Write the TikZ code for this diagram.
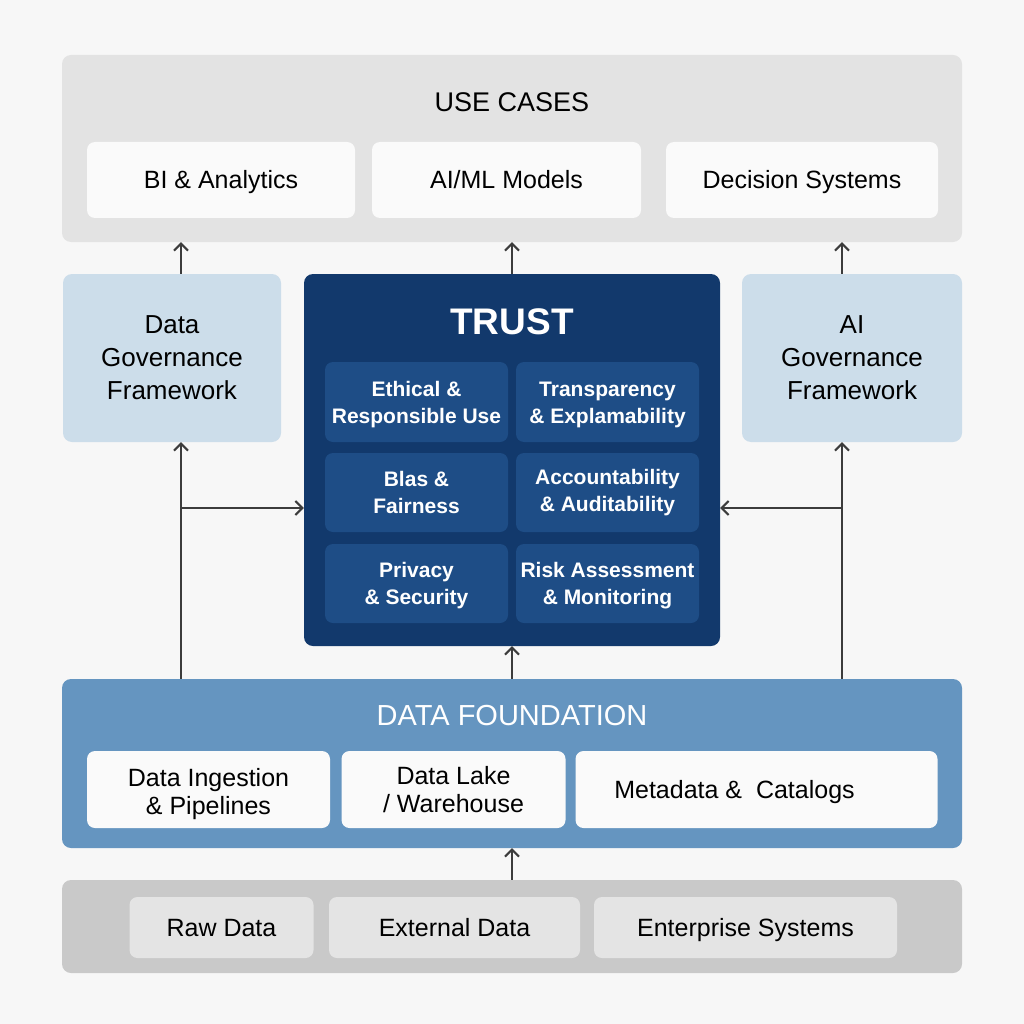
\documentclass[tikz,border=0pt]{standalone}
\usepackage{fontspec}
\setmainfont{Liberation Sans}
\usetikzlibrary{arrows.meta}
\definecolor{pagebg}{HTML}{F7F7F7}
\definecolor{usebg}{HTML}{E3E3E3}
\definecolor{cardbg}{HTML}{FAFAFA}
\definecolor{govbg}{HTML}{CCDDEA}
\definecolor{trustbg}{HTML}{12396C}
\definecolor{trustcard}{HTML}{1E4D86}
\definecolor{foundbg}{HTML}{6595C0}
\definecolor{srcbg}{HTML}{C9C9C9}
\definecolor{srccard}{HTML}{E4E4E4}
\definecolor{arrowgray}{HTML}{3C3C3C}

\begin{document}
\begin{tikzpicture}[
        x = 1pt, y = -1pt,
        box/.style = {rounded corners=9pt, inner sep=0pt, align=center},
        card/.style = {box, rounded corners=8pt, font=\fontsize{25}{30}\selectfont,
            text height=18pt, text depth=0pt},
        dcard/.style = {box, rounded corners=8pt, fill=cardbg, minimum height=77pt,
            font=\fontsize{25}{28}\selectfont},
        tcard/.style = {box, rounded corners=8pt, fill=trustcard, text=white,
            minimum width=183pt, font=\bfseries\fontsize{21}{27}\selectfont},
        arr/.style = {draw=arrowgray, line width=2pt,
            -{Straight Barb[length=7pt,width=14pt,line width=2pt]}},
		]

        \useasboundingbox[fill=pagebg] (0,0) rectangle (1024,1024);

        % Use cases
        \node[box, fill=usebg, minimum width=900pt, minimum height=187pt] (usecases) at (512,148.5) {};
        \node[font=\fontsize{27}{32}\selectfont] (usetitle) at (512,102) {USE CASES};
        \node[card, fill=cardbg, minimum width=268pt, minimum height=76pt] (bi) at (221,180) {BI \& Analytics};
        \node[card, fill=cardbg, minimum width=269pt, minimum height=76pt] (aiml) at (506.5,180) {AI/ML Models};
        \node[card, fill=cardbg, minimum width=272pt, minimum height=76pt] (decision) at (802,180) {Decision Systems};

        % Governance
        \node[box, fill=govbg, minimum width=218pt, minimum height=168pt,
            font=\fontsize{26}{33}\selectfont] (dgov) at (172,358) {Data\\Governance\\Framework};
        \node[box, fill=govbg, minimum width=220pt, minimum height=168pt,
            font=\fontsize{26}{33}\selectfont] (aigov) at (852,358) {AI\\Governance\\Framework};

        % Trust
        \node[box, fill=trustbg, minimum width=416pt, minimum height=372pt] (trust) at (512,460) {};
        \node[text=white, font=\bfseries\fontsize{37}{40}\selectfont] (trusttitle) at (512,322) {TRUST};
        \node[tcard, minimum height=80pt] (ethic) at (416.5,402) {\rule{0pt}{21pt}Ethical \&\\Responsible Use};
        \node[tcard, minimum height=80pt] (transp) at (607.5,402) {\rule{0pt}{21pt}Transparency\\\& Explamability};
        \node[tcard, minimum height=79pt] (bias) at (416.5,492.5) {Blas \&\\Fairness};
        \node[tcard, minimum height=79pt] (account) at (607.5,492.5) {Accountability\\\& Auditability};
        \node[tcard, minimum height=79pt] (privacy) at (416.5,583.5) {\rule{0pt}{19pt}Privacy\\\& Security};
        \node[tcard, minimum height=79pt] (risk) at (607.5,583.5) {\rule{0pt}{19pt}Risk Assessment\\\& Monitoring};

        % Data foundation
        \node[box, fill=foundbg, minimum width=900pt, minimum height=169pt] (found) at (512,763.5) {};
        \node[text=white, font=\fontsize{29}{32}\selectfont] (foundtitle) at (512,716) {DATA FOUNDATION};
        \node[dcard, minimum width=243pt] (ingest) at (208.5,789.5) {\rule{0pt}{28pt}Data Ingestion\\\& Pipelines};
        \node[dcard, minimum width=224pt] (lake) at (453.5,789.5) {Data Lake\\/ Warehouse};
        \node[card, fill=cardbg, minimum width=362pt, minimum height=77pt] (meta) at (756.5,789.5) {Metadata \&~~Catalogs\hspace*{44pt}};

        % Sources
        \node[box, fill=srcbg, minimum width=900pt, minimum height=93pt] (sources) at (512,926.5) {};
        \node[card, fill=srccard, minimum width=184pt, minimum height=61pt] (raw) at (221.5,927.5) {Raw Data};
        \node[card, fill=srccard, minimum width=251pt, minimum height=61pt] (external) at (454.5,927.5) {External Data};
        \node[card, fill=srccard, minimum width=303pt, minimum height=61pt] (enterprise) at (745.5,927.5) {Enterprise Systems};

        % Arrows
        \coordinate (lft) at (181,508);
        \coordinate (rgt) at (842,508);
        \draw[arr] (dgov.north -| lft) -- (usecases.south -| lft);
        \draw[arr] (trust.north) -- (usecases.south);
        \draw[arr] (aigov.north -| rgt) -- (usecases.south -| rgt);
        \draw[arr] (found.north -| lft) -- (dgov.south -| lft);
        \draw[arr] (found.north -| rgt) -- (aigov.south -| rgt);
        \draw[arr] (lft) -- (lft -| trust.west);
        \draw[arr] (rgt) -- (rgt -| trust.east);
        \draw[arr] (found.north) -- (trust.south);
        \draw[arr] (sources.north) -- (found.south);
    \end{tikzpicture}
\end{document}
